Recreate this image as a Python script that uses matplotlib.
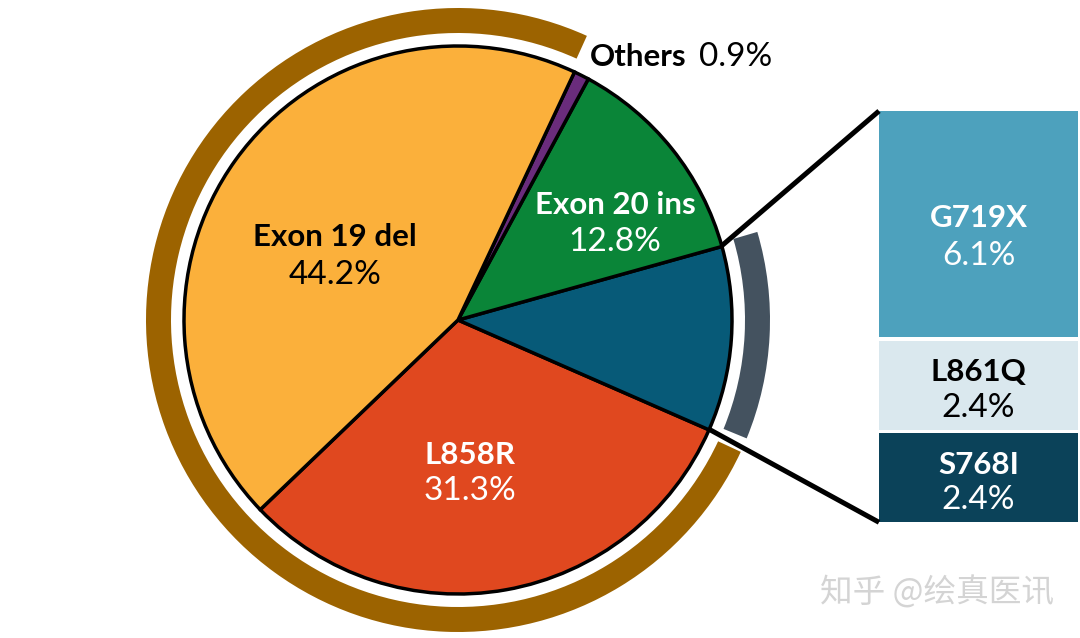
import numpy as np
import matplotlib
matplotlib.use("Agg")
import matplotlib.pyplot as plt
from matplotlib.patches import Wedge, Rectangle

# pie data (order drawn counter-clockwise from the lower-left boundary)
names = ["L858R", "Uncommon", "Exon 20 ins", "Others", "Exon 19 del"]
shares = [31.3, 10.9, 12.8, 0.9, 44.2]
pie_colors = ["#E0481F", "#075A78", "#0A8538", "#6A2C7C", "#FBB03B"]

# breakdown of the uncommon slice
sub_names = ["G719X", "L861Q", "S768I"]
sub_shares = [6.1, 2.4, 2.4]
sub_colors = ["#4DA1BD", "#DAE8EE", "#0B4259"]
sub_text = ["white", "black", "white"]

plt.rcParams['font.family'] = ['Lato', 'DejaVu Sans']
FS = 22.5   # bold names
FP = 24     # percentages
H = 638  # picture height, used to flip y

fig = plt.figure(figsize=(10.8, 6.38), dpi=100)
ax = fig.add_axes([0, 0, 1, 1])

cx, cy, R = 458, 318, 274
start = 223.8
ax.pie(shares, colors=pie_colors, startangle=start, counterclock=True,
       center=(cx, cy), radius=R,
       wedgeprops=dict(edgecolor="black", linewidth=2.5))

# slice boundary angles
bounds = start + 3.6 * np.cumsum([0] + shares)
a_unc0, a_unc1 = bounds[1], bounds[2]

# outer rings
ax.add_patch(Wedge((cx, cy), 312, 65.6, 335.0, width=25, color="#9C6300", lw=0))
ax.add_patch(Wedge((cx, cy), 312, -22.3, 16.4, width=25, color="#44525F", lw=0))

# boxes for the breakdown
bx0, bx1 = 879, 1078
top = H - 111
scale, gap = 37.0, 4
label_y = [(218, 256), (372, 408), (465, 500)]
y = top
box_tops, box_bots = [], []
for n, v, c, tc, (y1, y2) in zip(sub_names, sub_shares, sub_colors, sub_text, label_y):
    h = v * scale
    ax.add_patch(Rectangle((bx0, y - h), bx1 - bx0, h, color=c, lw=0))
    ax.text((bx0 + bx1) / 2, H - y1, n, color=tc, fontsize=FS, fontweight="bold",
            ha="center", va="center")
    ax.text((bx0 + bx1) / 2, H - y2, f"{v}%", color=tc, fontsize=FP,
            ha="center", va="center")
    box_tops.append(y)
    box_bots.append(y - h)
    y = y - h - gap

# connector lines
for ang, yb in [(a_unc1, box_tops[0]), (a_unc0 - 360, box_bots[-1])]:
    t = np.radians(ang)
    ax.plot([cx + R * np.cos(t), bx0], [cy + R * np.sin(t), yb],
            color="black", lw=3.6, solid_capstyle="butt")

# slice labels
ax.text(335, H - 237, "Exon 19 del", fontsize=FS, fontweight="bold", ha="center", va="center")
ax.text(335, H - 275, "44.2%", fontsize=FP, ha="center", va="center")
ax.text(615, H - 205, "Exon 20 ins", fontsize=FS, fontweight="bold", color="white", ha="center", va="center")
ax.text(615, H - 242, "12.8%", fontsize=FP, color="white", ha="center", va="center")
ax.text(470, H - 455, "L858R", fontsize=FS, fontweight="bold", color="white", ha="center", va="center")
ax.text(470, H - 491, "31.3%", fontsize=FP, color="white", ha="center", va="center")
ax.text(590, H - 57, "Others", fontsize=FS, fontweight="bold", ha="left", va="center")
ax.text(699, H - 57, "0.9%", fontsize=FP, ha="left", va="center")

# watermark
ax.text(820, H - 593, "知乎 @绘真医讯", fontsize=23.5, color="#D4D4D4",
        family=["Noto Sans CJK SC", "DejaVu Sans"], ha="left", va="center")

ax.set_xlim(0, 1080)
ax.set_ylim(0, H)
ax.set_aspect("equal")
ax.axis("off")

fig.savefig("out.png", dpi=100)
